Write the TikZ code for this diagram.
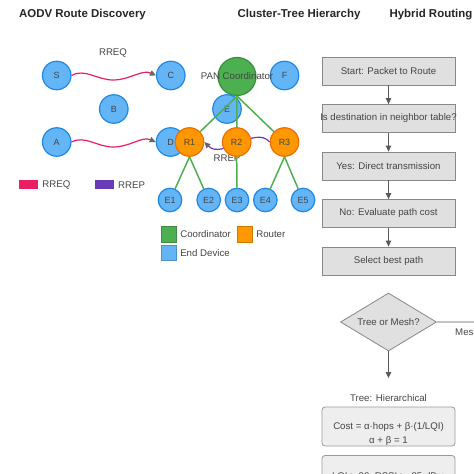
\documentclass[tikz,border=0pt]{standalone}
\usepackage{fontspec}
\setmainfont{Liberation Sans}
\usetikzlibrary{positioning,shapes.geometric,arrows.meta,backgrounds}

\definecolor{devblue}{HTML}{64B5F6}
\definecolor{devedge}{HTML}{1E88E5}
\definecolor{pangreen}{HTML}{4CAF50}
\definecolor{panedge}{HTML}{388E3C}
\definecolor{routeorange}{HTML}{FF9800}
\definecolor{routeedge}{HTML}{EF6C00}
\definecolor{reqpink}{HTML}{E91E63}
\definecolor{reppurple}{HTML}{673AB7}
\definecolor{boxgray}{HTML}{E0E0E0}
\definecolor{softgray}{HTML}{EEEEEE}
\definecolor{boxedge}{HTML}{888888}
\definecolor{inkgray}{HTML}{444444}

\begin{document}
\begin{tikzpicture}[
			x=1bp, y=1bp,
			node distance=47.5bp,
			font=\fontsize{9.7}{11}\selectfont,
			title/.style = {font=\fontsize{11.5}{13}\selectfont\bfseries, text=black!85},
			lbl/.style = {text=inkgray, inner sep=1bp},
			dev/.style = {draw=devedge, fill=devblue, circle, line width=1.2bp, minimum size=28.5bp, inner sep=0pt, text=inkgray, font=\fontsize{9}{10}\selectfont},
			leaf/.style = {dev, minimum size=23.5bp},
			router/.style = {dev, draw=routeedge, fill=routeorange},
			coord/.style = {dev, draw=panedge, fill=pangreen, minimum size=38bp},
			swatch/.style = {rectangle, inner sep=0pt, minimum width=19bp, minimum height=9bp},
			key/.style = {rectangle, draw=#1!80!black, fill=#1, line width=.6bp, inner sep=0pt, minimum size=15bp},
			rreq/.style = {draw=reqpink, line width=1.2bp, -{Triangle[length=6bp, width=5.5bp, color=black!60]}},
			rrep/.style = {draw=reppurple, line width=1.2bp, -{Triangle[length=6bp, width=5.5bp, color=black!60]}},
			link/.style = {draw=pangreen, line width=1.5bp},
			flow/.style = {draw=boxedge, fill=boxgray, line width=.8bp, minimum width=133bp, minimum height=28bp, inner sep=0pt, text=inkgray},
			decision/.style = {diamond, draw=boxedge, fill=boxgray, line width=.8bp, minimum width=96bp, minimum height=58bp, aspect=1.65, inner sep=0pt, text=inkgray},
			costbox/.style = {draw=black!40, fill=softgray, line width=.8bp, rounded corners=3bp, minimum width=133bp, minimum height=39bp, inner sep=0pt},
			flowarrow/.style = {draw=black!65, line width=.9bp, -{Triangle[length=6bp, width=5.5bp]}}
		]
		\useasboundingbox (0,0) rectangle (474,-474);
		\clip (0,0) rectangle (474,-474);

		% Titles.
		\node[title] (t1) at (82.5,-15) {AODV Route Discovery};
		\node[title] (t2) at (299,-15) {Cluster-Tree Hierarchy};
		\node[title, anchor=west] (t3) at (386,-15) {Hybrid Routing Logic};

		% AODV part.
		\node[dev] (S) at (56.7,-75.5) {S};
		\node[dev] (C) at (170.8,-75.5) {C};
		\node[dev] (B) at (113.8,-109) {B};
		\node[dev] (A) at (56.7,-142) {A};
		\node[dev] (D) at (170.5,-142) {D};
		\coordinate (sc) at (113,-80);
		\coordinate (ad) at (113,-147);

		\draw[rreq] (S.east) .. controls (85,-68) and (97,-80) .. (sc)
			.. controls (130,-80) and (142,-69) .. (C.west);
		\draw[rreq] (A.east) .. controls (85,-135) and (97,-147) .. (ad)
			.. controls (130,-147) and (142,-136) .. (D.west);
		\node[lbl] (reqlbl) at (113,-53) {RREQ};

		% Legend of messages.
		\node[swatch, fill=reqpink] (keyreq) at (28.5,-185) {};
		\node[lbl, right=3bp of keyreq] (keyreqtxt) {RREQ};
		\node[swatch, fill=reppurple] (keyrep) at (104.3,-185) {};
		\node[lbl, right=3bp of keyrep] (keyreptxt) {RREP};

		% Cluster-tree part.
		\node[dev] (F) at (284.5,-75.5) {F};
		\node[coord, label={[lbl]center:PAN Coordinator}] (pan) at (237,-76.5) {};
		\node[dev] (E) at (227,-109) {E};
		% Routers.
		\node[router] (R1) at (189.5,-142) {R1};
		\node[router] (R2) at (236.7,-142) {R2};
		\node[router] (R3) at (284.5,-142) {R3};
		% End devices.
		\node[leaf] (E1) at (170,-200) {E1};
		\node[leaf] (E2) at (208.7,-200) {E2};
		\node[leaf] (E3) at (237,-200) {E3};
		\node[leaf] (E4) at (265.3,-200) {E4};
		\node[leaf] (E5) at (303,-200) {E5};

		\draw[link] (pan.south) -- (R1);
		\draw[link] (pan.south) -- (R2);
		\draw[link] (pan.south) -- (R3);
		\draw[link] (R1.south) -- (E1);
		\draw[link] (R1.south) -- (E2);
		\draw[link] (R2.south) -- (E3);
		\draw[link] (R3.south) -- (E4);
		\draw[link] (R3.south) -- (E5);

		\begin{scope}[on background layer]
			\draw[rrep] (R3.west) .. controls (255,-125) and (222,-160) .. (R1.east);
			\node[lbl] (replbl) at (227,-158) {RREP};
		\end{scope}

		% Legend of node roles.
		\node[key=pangreen] (keypan) at (168.3,-234.3) {};
		\node[lbl, right=3bp of keypan] (keypantxt) {Coordinator};
		\node[key=routeorange] (keyrouter) at (244.3,-234.3) {};
		\node[lbl, right=3bp of keyrouter] (keyroutertxt) {Router};
		\node[key=devblue] (keydev) at (168.3,-253) {};
		\node[lbl, right=3bp of keydev] (keydevtxt) {End Device};

		% Flowchart.
		\node[flow] (start) at (388.5,-71) {Start: Packet to Route};
		\node[flow, below of=start] (lookup) {\makebox[0pt]{Is destination in neighbor table?}};
		\node[flow, below of=lookup] (direct) {Yes: Direct transmission};
		\node[flow, below of=direct] (evaluate) {No: Evaluate path cost};
		\node[flow, below of=evaluate] (select) {Select best path};
		\node[decision, below of=select, node distance=61bp] (mode) {Tree or Mesh?};
		\coordinate (treeend) at (388.5,-378);
		\coordinate (meshend) at (474,-322);
		\node[lbl] (treelbl) at (388.5,-398) {Tree: Hierarchical};
		\node[lbl, anchor=west] (meshlbl) at (454,-332) {Mesh};
		\node[costbox] (cost) at (388.5,-426.5) {};
		\node[lbl, align=center, font=\fontsize{9.7}{14}\selectfont] (costtxt) at (388.5,-434) {Cost = α·hops + β·(1/LQI)\\α + β = 1};
		\node[costbox] (lqi) at (388.5,-475) {};
		\node[lbl] (lqitxt) at (388.5,-477) {LQI > 80, RSSI > -85 dBm};

		\draw[flowarrow] (start) -- (lookup);
		\draw[flowarrow] (lookup) -- (direct);
		\draw[flowarrow] (direct) -- (evaluate);
		\draw[flowarrow] (evaluate) -- (select);
		\draw[flowarrow] (mode) -- (treeend);
		\draw[draw=black!65, line width=.9bp] (mode) -- (meshend);
	\end{tikzpicture}
\end{document}
